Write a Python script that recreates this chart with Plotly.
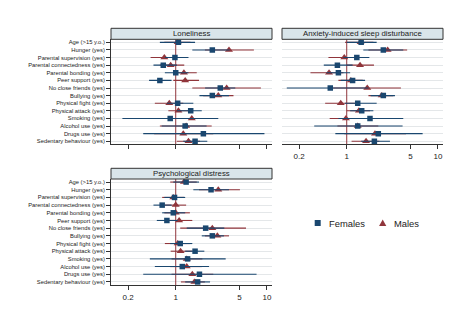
import plotly.graph_objects as go

labels = ["Age (>15 y.o.)", "Hunger (yes)", "Parental supervision (yes)",
          "Parental connectedness (yes)", "Parental bonding (yes)", "Peer support (yes)",
          "No close friends (yes)", "Bullying (yes)", "Physical fight (yes)",
          "Physical attack (yes)", "Smoking (yes)", "Alcohol use (yes)",
          "Drugs use (yes)", "Sedentary behaviour (yes)"]

panel_titles = ["Loneliness", "Anxiety-induced sleep disturbance", "Psychological distress"]

# Loneliness
lon_f    = [1.07, 2.52, 0.98, 0.73, 1.00, 0.67, 3.08, 2.52, 1.05, 1.46, 0.87, 1.27, 2.01, 1.63]
lon_f_lo = [0.67, 1.52, 0.76, 0.57, 0.76, 0.51, 2.10, 1.82, 0.80, 1.03, 0.26, 0.70, 0.44, 1.21]
lon_f_hi = [1.63, 3.90, 1.38, 1.03, 1.38, 0.90, 4.50, 3.84, 1.56, 1.93, 2.93, 2.18, 9.40, 2.22]
lon_m    = [1.05, 3.84, 0.75, 0.88, 1.23, 1.27, 3.62, 2.93, 0.85, 1.07, 1.50, 1.30, 1.21, 1.38]
lon_m_lo = [0.75, 2.09, 0.53, 0.67, 0.94, 0.94, 1.52, 2.00, 0.59, 0.83, 0.87, 0.67, 0.58, 1.03]
lon_m_hi = [1.45, 7.20, 1.03, 1.24, 1.70, 1.80, 8.60, 4.30, 1.21, 1.50, 2.48, 2.48, 2.58, 1.85]

# Anxiety-induced sleep disturbance
anx_f    = [1.44, 2.52, 1.29, 0.79, 0.81, 1.16, 0.66, 2.52, 1.32, 1.46, 1.80, 1.32, 2.22, 2.01]
anx_f_lo = [1.00, 1.52, 0.92, 0.56, 0.60, 0.86, 0.22, 1.83, 0.96, 1.09, 0.81, 0.44, 0.75, 1.44]
anx_f_hi = [2.13, 4.17, 1.77, 1.16, 1.09, 1.59, 1.73, 3.38, 2.13, 1.96, 4.17, 4.10, 6.80, 2.98]
anx_m    = [1.42, 2.81, 0.94, 1.40, 0.64, 1.11, 1.68, 2.42, 0.86, 1.36, 0.98, 1.32, 2.04, 1.63]
anx_m_lo = [0.96, 1.73, 0.63, 1.00, 0.40, 0.81, 0.71, 1.73, 0.58, 1.00, 0.65, 0.79, 0.94, 1.13]
anx_m_hi = [1.96, 4.60, 1.34, 1.99, 0.92, 1.50, 3.93, 3.24, 1.23, 1.80, 1.40, 2.22, 4.47, 2.28]

# Psychological distress
psy_f    = [1.30, 2.44, 0.97, 0.71, 0.94, 0.80, 2.13, 2.52, 1.12, 1.63, 1.35, 1.18, 1.82, 1.74]
psy_f_lo = [0.94, 1.56, 0.75, 0.57, 0.71, 0.62, 1.32, 1.93, 0.87, 1.27, 0.52, 0.59, 0.44, 1.27]
psy_f_hi = [1.80, 3.84, 1.27, 0.90, 1.27, 1.05, 3.41, 3.38, 1.52, 2.06, 3.53, 2.32, 7.70, 2.38]
psy_m    = [1.23, 2.93, 0.94, 1.00, 1.00, 1.09, 2.52, 2.86, 1.05, 1.13, 1.32, 1.32, 1.52, 1.60]
psy_m_lo = [0.87, 1.80, 0.71, 0.76, 0.75, 0.82, 1.12, 2.09, 0.76, 0.88, 0.90, 0.87, 0.90, 1.14]
psy_m_hi = [1.70, 5.06, 1.24, 1.30, 1.43, 1.52, 5.90, 3.84, 1.43, 1.52, 1.96, 1.93, 2.58, 2.09]

x_tick_vals = [0.3, 1, 5, 10]
x_tick_text = ["0.2", "1", "5", "10"]
legend_names = ["Females", "Males"]
ref_value = 1

NAVY = "#1a476f"
MAROON = "#90353b"
FONT = "Liberation Sans, Arial, sans-serif"
W, H = 474, 335
Y_RANGE = [13.4, -0.4]

panels = [
    (lon_f, lon_f_lo, lon_f_hi, lon_m, lon_m_lo, lon_m_hi),
    (anx_f, anx_f_lo, anx_f_hi, anx_m, anx_m_lo, anx_m_hi),
    (psy_f, psy_f_lo, psy_f_hi, psy_m, psy_m_lo, psy_m_hi),
]

# pixel geometry of panels: (left, right, top_of_title, title_bottom, plot_bottom)
geom = [
    (111, 272, 28.3, 39.3, 144.3),
    (282, 443, 28.3, 39.3, 144.3),
    (111, 272, 168.3, 179.0, 285.0),
]

def px(v):
    return v / W

def py(v):
    return 1 - v / H

fig = go.Figure()
rows = list(range(len(labels)))

for i, (ff, flo, fhi, mm, mlo, mhi) in enumerate(panels):
    xa = "x" if i == 0 else f"x{i+1}"
    ya = "y" if i == 0 else f"y{i+1}"
    # reference line (drawn first: above grid, below markers)
    fig.add_trace(go.Scatter(
        x=[ref_value, ref_value], y=Y_RANGE, xaxis=xa, yaxis=ya, mode="lines",
        showlegend=False, hoverinfo="skip", line=dict(color=MAROON, width=1),
    ))
    fig.add_trace(go.Scatter(
        x=mm, y=rows, xaxis=xa, yaxis=ya, mode="markers", name=legend_names[1],
        showlegend=False,
        marker=dict(symbol="triangle-up", size=7, color=MAROON),
        error_x=dict(type="data", symmetric=False,
                     array=[h - v for h, v in zip(mhi, mm)],
                     arrayminus=[v - l for v, l in zip(mm, mlo)],
                     width=0, thickness=1.1, color=MAROON),
    ))
    fig.add_trace(go.Scatter(
        x=ff, y=rows, xaxis=xa, yaxis=ya, mode="markers", name=legend_names[0],
        showlegend=False,
        marker=dict(symbol="square", size=5.5, color=NAVY),
        error_x=dict(type="data", symmetric=False,
                     array=[h - v for h, v in zip(fhi, ff)],
                     arrayminus=[v - l for v, l in zip(ff, flo)],
                     width=0, thickness=1.1, color=NAVY),
    ))

layout = dict(
    width=W, height=H, margin=dict(l=0, r=0, t=0, b=0),
    paper_bgcolor="white", plot_bgcolor="white",
    font=dict(family=FONT, color="#222"), showlegend=False,
)
shapes = []
annotations = []
for i, (l, r, tt, tb, pb) in enumerate(geom):
    sx = "" if i == 0 else str(i + 1)
    layout[f"xaxis{sx}"] = dict(
        domain=[px(l), px(r)], anchor=f"y{sx}", type="log", range=[-0.71, 1.056],
        tickvals=x_tick_vals, ticktext=x_tick_text if i > 0 else [""] * 4,
        ticks="outside", ticklen=4, tickwidth=1, tickcolor="#333",
        showline=True, linecolor="#333", linewidth=1, showgrid=False, zeroline=False,
        tickfont=dict(size=8, family=FONT, color="#222"),
    )
    layout[f"yaxis{sx}"] = dict(
        domain=[py(pb), py(tb)], anchor=f"x{sx}", range=Y_RANGE,
        tickvals=rows, ticktext=labels if i != 1 else [""] * len(labels),
        ticks="outside" if i != 1 else "", ticklen=4, tickwidth=1, tickcolor="#333",
        showline=(i != 1), linecolor="#333", linewidth=1,
        showgrid=True, gridcolor="#e4e7e9", gridwidth=1, zeroline=False,
        tickfont=dict(size=5.8, family=FONT, color="#222"),
    )
    # title strip
    shapes.append(dict(type="rect", xref="paper", yref="paper",
                       x0=px(l), x1=px(r), y0=py(tb), y1=py(tt),
                       fillcolor="#d9e5ea", line=dict(color="#333", width=1)))
    annotations.append(dict(text=panel_titles[i], xref="paper", yref="paper",
                            x=px((l + r) / 2), y=py((tt + tb) / 2),
                            xanchor="center", yanchor="middle", showarrow=False,
                            font=dict(size=7.8, family=FONT, color="#222")))

# manual legend keys
leg_y = 223
shapes.append(dict(type="rect", xref="paper", yref="paper",
                   x0=px(314.7), x1=px(320.7), y0=py(226), y1=py(220),
                   fillcolor=NAVY, line=dict(width=0)))
shapes.append(dict(type="path", xref="paper", yref="paper",
                   path=f"M {px(379.1)},{py(226)} L {px(386.3)},{py(226)} L {px(382.7)},{py(219.6)} Z",
                   fillcolor=MAROON, line=dict(width=0)))
annotations.append(dict(text=legend_names[0], xref="paper", yref="paper", x=px(326.5), y=py(leg_y),
                        xanchor="left", yanchor="middle", showarrow=False,
                        font=dict(size=9.4, family=FONT, color="#222")))
annotations.append(dict(text=legend_names[1], xref="paper", yref="paper", x=px(391.5), y=py(leg_y),
                        xanchor="left", yanchor="middle", showarrow=False,
                        font=dict(size=9.4, family=FONT, color="#222")))

layout["shapes"] = shapes
layout["annotations"] = annotations
fig.update_layout(**layout)
fig.write_html("out.html")
